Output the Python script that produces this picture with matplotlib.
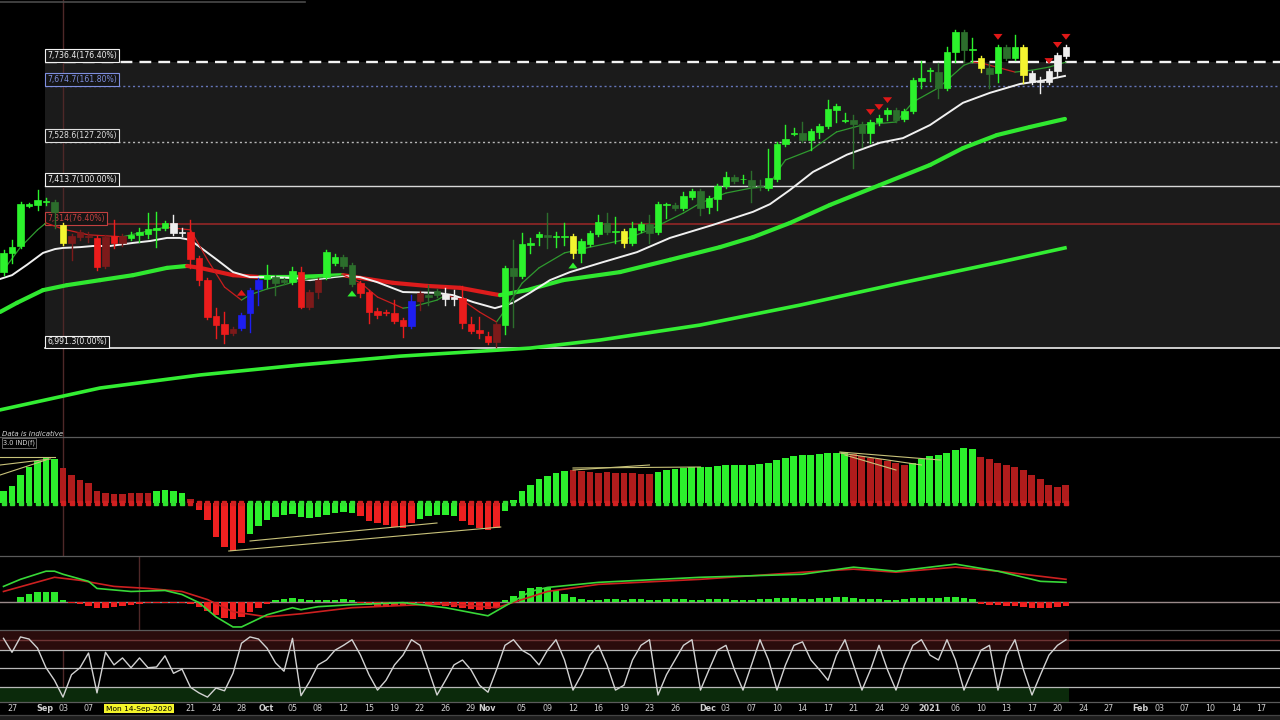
import matplotlib
matplotlib.use('Agg')
import matplotlib.pyplot as plt
import matplotlib.transforms as mtransforms
from matplotlib.patches import Rectangle
from matplotlib.lines import Line2D

plt.rcParams['font.family'] = ['DejaVu Sans']

# ---------------- data ----------------
FIRST = -1  # index of first candle
opens = [7189, 7239, 7257, 7361, 7364, 7372, 7372, 7312, 7265, 7280,
         7280, 7278, 7205, 7283, 7265, 7278, 7286, 7288, 7299, 7304,
         7291, 7293, 7293, 7226, 7168, 7075, 7054, 7030, 7043, 7082,
         7145, 7171, 7176, 7168, 7163, 7189, 7098, 7137, 7176, 7213,
         7228, 7207, 7161, 7137, 7088, 7085, 7082, 7064, 7049, 7114,
         7129, 7140, 7119, 7124, 7122, 7054, 7038, 7023, 7007, 7051,
         7200, 7179, 7260, 7280, 7286, 7280, 7282, 7283, 7239, 7262,
         7288, 7317, 7293, 7296, 7265, 7299, 7314, 7293, 7364, 7364,
         7356, 7385, 7400, 7359, 7379, 7413, 7437, 7431, 7429, 7413,
         7408, 7431, 7523, 7549, 7551, 7533, 7554, 7570, 7611, 7584,
         7585, 7575, 7551, 7580, 7601, 7611, 7588, 7609, 7687, 7712,
         7710, 7669, 7762, 7814, 7768, 7747, 7721, 7708, 7775, 7747,
         7775, 7684, 7684, 7684, 7713, 7752]
highs = [7247, 7273, 7372, 7369, 7403, 7382, 7377, 7317, 7288, 7299,
         7293, 7283, 7286, 7325, 7288, 7293, 7304, 7343, 7346, 7322,
         7338, 7304, 7325, 7231, 7174, 7095, 7085, 7046, 7082, 7148,
         7174, 7207, 7181, 7174, 7202, 7202, 7142, 7174, 7247, 7236,
         7233, 7213, 7166, 7142, 7095, 7090, 7116, 7070, 7129, 7140,
         7155, 7145, 7148, 7142, 7153, 7072, 7072, 7033, 7059, 7205,
         7273, 7291, 7278, 7293, 7343, 7293, 7317, 7288, 7275, 7296,
         7338, 7343, 7333, 7301, 7320, 7320, 7338, 7372, 7369, 7369,
         7398, 7405, 7405, 7387, 7418, 7450, 7442, 7442, 7452, 7429,
         7510, 7528, 7572, 7564, 7580, 7562, 7575, 7637, 7627, 7603,
         7598, 7580, 7585, 7598, 7616, 7616, 7614, 7695, 7739, 7721,
         7734, 7775, 7820, 7820, 7799, 7752, 7734, 7781, 7781, 7807,
         7781, 7713, 7697, 7718, 7760, 7781]
lows = [7181, 7213, 7252, 7359, 7351, 7364, 7304, 7260, 7221, 7273,
        7267, 7195, 7200, 7252, 7257, 7273, 7267, 7278, 7254, 7299,
        7286, 7283, 7200, 7155, 7067, 7017, 7004, 7025, 7038, 7033,
        7103, 7150, 7129, 7158, 7158, 7095, 7093, 7121, 7171, 7207,
        7200, 7153, 7124, 7056, 7070, 7077, 7056, 7020, 7043, 7090,
        7103, 7124, 7103, 7103, 7043, 7030, 7017, 7002, 6994, 7028,
        7046, 7174, 7239, 7260, 7252, 7254, 7260, 7226, 7215, 7257,
        7283, 7288, 7265, 7254, 7260, 7293, 7265, 7288, 7330, 7351,
        7351, 7379, 7338, 7343, 7351, 7408, 7421, 7421, 7372, 7403,
        7403, 7426, 7517, 7546, 7528, 7507, 7538, 7564, 7580, 7580,
        7460, 7515, 7525, 7572, 7585, 7580, 7583, 7603, 7669, 7687,
        7643, 7663, 7736, 7736, 7736, 7710, 7669, 7684, 7742, 7742,
        7682, 7679, 7656, 7679, 7697, 7747]
closes = [7239, 7254, 7366, 7366, 7377, 7374, 7346, 7265, 7283, 7293,
          7283, 7202, 7280, 7265, 7283, 7286, 7293, 7301, 7304, 7317,
          7317, 7291, 7223, 7168, 7072, 7051, 7028, 7041, 7077, 7142,
          7168, 7181, 7161, 7163, 7192, 7098, 7137, 7168, 7241, 7228,
          7205, 7158, 7134, 7085, 7077, 7082, 7062, 7049, 7114, 7135,
          7124, 7129, 7132, 7119, 7056, 7036, 7030, 7007, 7054, 7200,
          7179, 7262, 7265, 7288, 7280, 7283, 7283, 7239, 7270, 7291,
          7320, 7293, 7296, 7265, 7304, 7314, 7291, 7366, 7366, 7356,
          7387, 7400, 7356, 7382, 7413, 7437, 7426, 7432, 7413, 7411,
          7434, 7523, 7536, 7551, 7533, 7557, 7570, 7614, 7622, 7586,
          7575, 7551, 7580, 7590, 7611, 7585, 7609, 7689, 7695, 7714,
          7669, 7762, 7814, 7768, 7770, 7721, 7705, 7775, 7747, 7775,
          7702, 7708, 7685, 7713, 7755, 7775]
candle_kind = ['G', 'G', 'G', 'G', 'G', 'G', 'g', 'Y', 'r', 'r',
               'r', 'R', 'r', 'R', 'r', 'G', 'G', 'G', 'G', 'G',
               'W', 'W', 'R', 'R', 'R', 'R', 'R', 'r', 'B', 'B',
               'B', 'G', 'g', 'g', 'G', 'R', 'r', 'r', 'G', 'G',
               'g', 'g', 'R', 'R', 'R', 'R', 'R', 'R', 'B', 'r',
               'g', 'g', 'W', 'W', 'R', 'R', 'R', 'R', 'r', 'G',
               'g', 'G', 'G', 'G', 'g', 'G', 'G', 'Y', 'G', 'G',
               'G', 'g', 'G', 'Y', 'G', 'G', 'g', 'G', 'G', 'g',
               'G', 'G', 'g', 'G', 'G', 'G', 'g', 'G', 'g', 'g',
               'G', 'G', 'G', 'G', 'g', 'G', 'G', 'G', 'G', 'G',
               'g', 'g', 'G', 'G', 'G', 'g', 'G', 'G', 'G', 'G',
               'g', 'G', 'G', 'g', 'G', 'Y', 'g', 'G', 'g', 'G',
               'Y', 'W', 'W', 'W', 'W', 'W']

down_arrow_idx = [101, 102, 103, 116, 122, 123, 124]   # red arrows above
up_arrow_idx = [40, 66]                                  # green arrows below
red_up_arrow_idx = [27]

# moving averages (position, price)
fast_ma_idx = [-1, 1, 3, 4, 6, 9, 13, 18, 21, 23, 25, 27, 28, 30, 31, 34, 37, 39, 41, 43,
               46, 47, 50, 51, 53, 55, 57, 58, 60, 62, 65, 68, 72, 75, 79, 81, 84, 87, 89, 90,
               91, 94, 97, 100, 104, 106, 109, 112, 113, 114, 118, 120, 122, 124]
fast_ma_val = [7194, 7254, 7299, 7317, 7301, 7286, 7281, 7306, 7299, 7221, 7150, 7116, 7130,
               7145, 7150, 7168, 7176, 7181, 7161, 7124, 7095, 7098, 7116, 7129, 7116, 7085,
               7059, 7090, 7160, 7200, 7239, 7254, 7273, 7299, 7343, 7369, 7395, 7408, 7411,
               7450, 7481, 7507, 7554, 7572, 7580, 7632, 7669, 7728, 7736, 7734, 7710, 7715,
               7723, 7736]
white_ma_idx = [-1.41, 0, 1.76, 3.65, 5.06, 6, 8, 9.53, 11.53, 14.24, 16.24, 18.24, 19.76,
                20.94, 22.12, 24.12, 26, 28, 30.35, 33.06, 35.06, 38.94, 40.94, 42.94, 46,
                50, 51.88, 54.24, 56.82, 58.94, 60.94, 63.29, 65.65, 69.53, 73.53, 77.41,
                82.47, 87.18, 89.18, 91.53, 94.24, 98.24, 102.12, 104.82, 108, 111.88,
                115.06, 118.59, 121.29, 123.88]
white_ma_val = [7171, 7181, 7208, 7239, 7249, 7252, 7254, 7257, 7257, 7265, 7270, 7278,
                7278, 7273, 7254, 7221, 7189, 7176, 7176, 7174, 7168, 7179, 7176, 7163,
                7137, 7135, 7129, 7111, 7095, 7109, 7135, 7168, 7189, 7215, 7241, 7278,
                7312, 7346, 7366, 7403, 7450, 7495, 7526, 7538, 7572, 7630, 7656, 7679,
                7688, 7700]
mid_ma_idx = [-1.41, 0.59, 3.65, 6.47, 10.35, 14.24, 18.24, 20.59, 22.12, 26, 29.18,
              33.06, 38.94, 40.94, 44.82, 48.82, 52.71, 56.59, 57.41, 60.59, 64.82,
              71.53, 77.41, 83.29, 87.18, 91.53, 96.24, 102.12, 108, 111.88, 115.88,
              119.76, 123.88]
mid_ma_val = [7085, 7109, 7142, 7155, 7168, 7181, 7200, 7205, 7200, 7181, 7176, 7176,
              7181, 7174, 7161, 7153, 7148, 7132, 7129, 7142, 7168, 7189, 7221, 7254,
              7280, 7317, 7364, 7416, 7468, 7512, 7546, 7567, 7588]
long_ma_idx = [-1.41, 10.35, 22.12, 33.88, 45.65, 57.41, 60.94, 69.18, 80.94, 92.71,
               104.47, 116.24, 123.88]
long_ma_val = [6830, 6887, 6921, 6947, 6970, 6986, 6991, 7012, 7051, 7103, 7160, 7215,
               7252]

fib_prices = [7736.4, 7674.7, 7528.6, 7413.7, 7314.0, 6991.3]
fib_labels = ['7,736.4(176.40%)', '7,674.7(161.80%)', '7,528.6(127.20%)',
              '7,413.7(100.00%)', '7,314(76.40%)', '6,991.3(0.00%)']

# momentum histogram (panel 2)
mom_hist = [12, 17, 28, 36, 42, 45, 44, 35, 28, 23,
            20, 12, 10, 9, 9, 10, 10, 10, 12, 13,
            12, 10, 4, -7, -17, -34, -44, -48, -40, -31,
            -23, -17, -14, -12, -11, -14, -15, -14, -12, -10,
            -9, -10, -13, -18, -20, -22, -24, -25, -20, -16,
            -13, -12, -12, -13, -18, -22, -25, -27, -25, -8,
            3, 12, 18, 24, 27, 30, 32, 33, 32, 31,
            30, 31, 30, 30, 30, 29, 29, 31, 33, 34,
            35, 36, 36, 36, 37, 38, 38, 38, 38, 39,
            40, 43, 45, 47, 48, 48, 49, 50, 50, 51,
            49, 47, 45, 44, 42, 40, 38, 40, 44, 47,
            48, 50, 53, 55, 54, 46, 44, 40, 38, 36,
            33, 28, 24, 18, 16, 18]
mom_color_runs = [('g', 7), ('r', 11), ('g', 4), ('r', 7), ('g', 13), ('r', 7), ('g', 5),
                  ('r', 5), ('g', 8), ('r', 10), ('g', 23), ('r', 7), ('g', 8), ('r', 11)]

# MACD panel
macd_hist = [0, 0, 5, 8, 9, 9, 9, 2, -1, -2,
             -4, -6, -6, -5, -4, -3, -2, -1, -1, -1,
             -1, -1, -2, -5, -9, -13, -16, -17, -15, -10,
             -6, -2, 2, 3, 4, 3, 2, 2, 2, 2,
             3, 2, -1, -3, -4, -5, -4, -3, -2, -1,
             -2, -3, -4, -5, -6, -7, -8, -7, -5, 2,
             6, 10, 13, 14, 13, 11, 8, 5, 3, 2,
             2, 3, 3, 2, 3, 3, 2, 2, 3, 3,
             3, 2, 2, 3, 3, 3, 2, 2, 2, 3,
             3, 4, 4, 4, 3, 3, 4, 4, 5, 5,
             4, 3, 3, 3, 2, 2, 3, 4, 4, 4,
             4, 5, 5, 4, 3, -2, -3, -3, -4, -4,
             -5, -6, -6, -6, -5, -4]
macd_idx = [-1, 1, 4, 5, 6, 9, 10, 14, 18, 20, 22, 24, 26, 27, 30, 33, 34, 36, 40, 46,
            51, 56, 61, 63, 69, 81, 93, 99, 104, 111, 116, 121, 124]
macd_val = [15, 22, 30, 30, 27, 20, 13, 10, 11, 7, -1, -15, -25, -25, -13, -6, -8, -5,
            -3, -1, -6, -14, 10, 14, 19, 24, 27, 34, 30, 37, 30, 20, 19]
signal_idx = [-1, 2, 5, 8, 12, 16, 20, 23, 26, 30, 34, 36, 40, 51, 57, 63, 69, 81, 93,
              99, 104, 111, 116, 121, 124]
signal_val = [10, 17, 24, 21, 15, 13, 10, 2, -10, -15, -12, -10, -6, -2, -6, 10, 17, 22,
              29, 32, 29, 34, 30, 25, 22]

# oscillator panel
stoch = [91, 71, 93, 90, 77, 49, 31, 7, 39, 49,
         70, 13, 71, 53, 63, 49, 63, 49, 50, 66,
         41, 47, 21, 13, 7, 20, 16, 41, 84, 93,
         90, 77, 56, 44, 91, 9, 29, 53, 60, 74,
         81, 89, 67, 39, 17, 31, 53, 67, 89, 81,
         46, 10, 31, 53, 60, 46, 24, 14, 46, 81,
         89, 74, 67, 53, 74, 89, 60, 17, 39, 67,
         81, 53, 17, 24, 60, 81, 89, 10, 39, 60,
         81, 89, 17, 46, 74, 81, 46, 17, 53, 89,
         60, 17, 53, 81, 86, 60, 46, 31, 67, 89,
         53, 17, 46, 81, 46, 17, 53, 81, 89, 67,
         60, 89, 60, 17, 46, 74, 81, 17, 67, 89,
         46, 10, 39, 67, 81, 89]

tick_pos = [0, 3.9, 6, 9, 21, 24, 27, 29.9, 33, 36, 39, 42, 45, 48, 51, 54, 55.9, 60, 63,
            66, 69, 72, 75, 78, 81.9, 84, 87, 90, 93, 96, 99, 102, 105, 108, 111, 114, 117,
            120, 123, 126, 129, 132.7, 135, 138, 141, 144, 147]
tick_labels = ['27', 'Sep', '03', '07', '21', '24', '28', 'Oct', '05', '08', '12', '15', '19',
               '22', '26', '29', 'Nov', '05', '09', '12', '16', '19', '23', '26', 'Dec', '03',
               '07', '10', '14', '17', '21', '24', '29', '2021', '06', '10', '13', '17', '20',
               '24', '27', 'Feb', '03', '07', '10', '14', '17']
bold_labels = {'Sep', 'Oct', 'Nov', 'Dec', 'Feb', '2021'}
cursor_label = 'Mon 14-Sep-2020'
cursor_pos = 14.94

# ---------------- styling ----------------
W, H = 1280, 720
XL = (-1.412, 149.18)
kind_color = {'G': '#2cf22c', 'g': '#2c6e2c', 'R': '#ec1c1c', 'r': '#7c1a1a',
              'B': '#1e1ef0', 'Y': '#f4f430', 'W': '#eeeeee'}

fig = plt.figure(figsize=(W / 100, H / 100), dpi=100, facecolor='black')


def pax(top, bot):
    a = fig.add_axes([0, 1 - bot / H, 1, (bot - top) / H])
    a.set_facecolor('black')
    a.set_xlim(*XL)
    a.set_axis_off()
    return a


ax = pax(0, 437)
ax_h = pax(437, 556)
ax_m = pax(556, 630)
ax_s = pax(630, 702)

n = len(closes)
xs = list(range(FIRST, FIRST + n))

# ---------- main panel ----------
ax.set_ylim(6759.4, 7897.8)
band_left = 3.88
ax.add_patch(Rectangle((band_left, fib_prices[-1]), XL[1] - band_left,
                       fib_prices[0] - fib_prices[-1], facecolor='#1b1b1b',
                       edgecolor='none', zorder=0))
fib_styles = [dict(color='#f2f2f2', lw=1.7, ls=(0, (5, 3))),
              dict(color='#6575b8', lw=1.0, ls=(0, (1.5, 2))),
              dict(color='#b8b8b8', lw=1.0, ls=(0, (1.5, 2))),
              dict(color='#d8d8d8', lw=1.0, ls='-'),
              dict(color='#8a2626', lw=1.3, ls='-'),
              dict(color='#eeeeee', lw=1.2, ls='-')]
fib_text_col = ['#f2f2f2', '#7f8fe0', '#e0e0e0', '#f2f2f2', '#c24040', '#f2f2f2']
for p, lab, st, tc in zip(fib_prices, fib_labels, fib_styles, fib_text_col):
    ax.plot([band_left, XL[1]], [p, p], zorder=1, **st)
    ax.text(band_left + 0.25, p + 4, lab, fontsize=5.6, color=tc, va='bottom', ha='left',
            zorder=2, bbox=dict(boxstyle='square,pad=0.25', facecolor='#151515',
                                edgecolor=tc, lw=0.8))

# top-left status strip
fig.add_artist(Line2D([0, 305 / W], [1 - 1.5 / H, 1 - 1.5 / H], color='#4a4a4a', lw=1.2))

# crosshair
ax.axvline(6.0, color='#4e2828', lw=1.0, zorder=1)
ax_h.axvline(6.0, color='#4e2828', lw=1.0, zorder=0)
ax_s.axvline(6.0, color='#4e2828', lw=1.0, zorder=0)
ax_m.axvline(cursor_pos, color='#4e2828', lw=1.0, zorder=0)


def colored_line(a, ix, vals, up, down, lw, z):
    for k in range(len(ix) - 1):
        c = up if vals[k + 1] >= vals[k] else down
        a.plot(ix[k:k + 2], vals[k:k + 2], color=c, lw=lw, zorder=z,
               solid_capstyle='round')


ax.plot(long_ma_idx, long_ma_val, color='#33ee33', lw=2.6, zorder=2,
        solid_joinstyle='round')
colored_line(ax, mid_ma_idx, mid_ma_val, '#30e830', '#dd1c1c', 3.0, 2.1)
ax.plot(white_ma_idx, white_ma_val, color='#f0f0f0', lw=1.4, zorder=2.2,
        solid_joinstyle='round')
colored_line(ax, fast_ma_idx, fast_ma_val, '#2f9a2f', '#c81e1e', 0.9, 2.3)

# candles
for x, o, h, l, c, k in zip(xs, opens, highs, lows, closes, candle_kind):
    col = kind_color[k]
    ax.plot([x, x], [l, h], color=col, lw=1.0, zorder=3)
    lo, hi = min(o, c), max(o, c)
    if hi - lo < 2.5:
        mid = (hi + lo) / 2
        lo, hi = mid - 1.3, mid + 1.3
    ax.add_patch(Rectangle((x - 0.36, lo), 0.72, hi - lo, facecolor=col,
                           edgecolor=col, lw=0.5, zorder=3.1))

arrow_style = 'simple,head_length=0.7,head_width=1.1,tail_width=0.5'
for i in down_arrow_idx:
    h = highs[i - FIRST]
    ax.annotate('', xy=(i, h + 6), xytext=(i, h + 30),
                arrowprops=dict(arrowstyle=arrow_style, color='#e01818', lw=0,
                                mutation_scale=6), zorder=4)
for i in up_arrow_idx:
    l = lows[i - FIRST]
    ax.annotate('', xy=(i, l - 5), xytext=(i, l - 29),
                arrowprops=dict(arrowstyle=arrow_style, color='#30f030', lw=0,
                                mutation_scale=6), zorder=4)
for i in red_up_arrow_idx:
    h = highs[i - FIRST]
    ax.annotate('', xy=(i, h + 68), xytext=(i, h + 44),
                arrowprops=dict(arrowstyle=arrow_style, color='#e01818', lw=0,
                                mutation_scale=6), zorder=4)

# ---------- momentum histogram ----------
ax_h.set_ylim(-53, 66)
mom_colors = []
for c, cnt in mom_color_runs:
    mom_colors += [c] * cnt
for x, v, c in zip(xs, mom_hist, mom_colors):
    if c == 'g':
        col = '#2cf02c'
    else:
        col = '#ee2020' if v < 0 else '#b01c1c'
    ax_h.bar(x, v, width=0.82, color=col, zorder=2)
    ax_h.plot(x, 0, marker='s', ms=2.6, color='#30e030' if c == 'g' else '#d02020',
              zorder=3, ls='none')
div_lines = [((-1.4, 5.0), (46, 46)), ((-1.4, 4.5), (38, 44)), ((-1.4, 4.0), (28, 43)),
             ((25.5, 57.5), (-48, -24)), ((28, 50), (-38, -20)),
             ((66, 81), (35, 36)), ((66, 75), (33, 38)),
             ((97.4, 109.2), (51, 43)), ((97.4, 107), (50, 38)), ((98, 104), (48, 33))]
for (x0, x1), (y0, y1) in div_lines:
    ax_h.plot([x0, x1], [y0, y1], color='#c8c27a', lw=0.8, zorder=4)
fig.text(2 / W, 1 - 434 / H, 'Data is Indicative', fontsize=5, style='italic',
         color='#d8d8d8', va='center', ha='left')
fig.text(3 / W, 1 - 443 / H, '3.0 IND(f)', fontsize=4.8, color='#d8d8d8', va='center',
         ha='left', bbox=dict(boxstyle='square,pad=0.2', facecolor='black',
                              edgecolor='#777777', lw=0.6))

# ---------- MACD ----------
ax_m.set_ylim(-28, 45)
ax_m.axhline(0, color='#9a8a8a', lw=1.0, zorder=1)
for x, v in zip(xs, macd_hist):
    ax_m.bar(x, v, width=0.8, color='#2ce82c' if v >= 0 else '#ee2020', zorder=2)
ax_m.plot(signal_idx, signal_val, color='#cc2020', lw=1.2, zorder=3)
ax_m.plot(macd_idx, macd_val, color='#38d838', lw=1.2, zorder=3.1)

# ---------- oscillator ----------
ax_s.set_ylim(0, 102.9)
data_end = FIRST + n - 0.6
ax_s.add_patch(Rectangle((XL[0], 74), data_end - XL[0], 30, facecolor='#2a0c0c',
                         edgecolor='none', zorder=0))
ax_s.add_patch(Rectangle((XL[0], 0), data_end - XL[0], 21, facecolor='#0b2a0b',
                         edgecolor='none', zorder=0))
ax_s.axhline(88.6, color='#6e3434', lw=1.0, zorder=1)
for lv in (74, 49, 21):
    ax_s.axhline(lv, color='#b8b8b8', lw=0.9, zorder=1)
ax_s.plot(xs, stoch, color='#d2d2d2', lw=1.0, zorder=3)

# ---------- separators / x axis ----------
for ypx, col in ((437, '#5a5a5a'), (556, '#5a5a5a'), (630, '#5a5a5a'), (702, '#5a5a5a'),
                 (715, '#444444')):
    fig.add_artist(Line2D([0, 1], [1 - ypx / H, 1 - ypx / H], color=col, lw=0.9))
fig.add_artist(Rectangle((0, 0), 1, 5 / H, transform=fig.transFigure,
                         facecolor='#1e1e1e', edgecolor='none'))

trans = mtransforms.blended_transform_factory(ax_s.transData, fig.transFigure)
ylab = 1 - 708.5 / H
for p, lab in zip(tick_pos, tick_labels):
    fig.text(p, ylab, lab, transform=trans, fontsize=5.8, color='#d0d0d0',
             ha='center', va='center',
             fontweight='bold' if lab in bold_labels else 'normal')
fig.text(cursor_pos, ylab, cursor_label, transform=trans, fontsize=5.4, color='black',
         ha='center', va='center',
         bbox=dict(boxstyle='square,pad=0.25', facecolor='#f4f42a', edgecolor='none'))

fig.savefig('out.png', dpi=100, facecolor='black')
